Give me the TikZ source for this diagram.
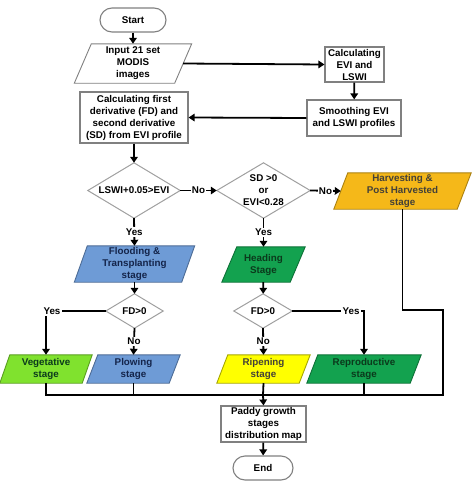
\documentclass[tikz,border=0pt]{standalone}
\usepackage{fontspec}
\setmainfont{Liberation Sans}
\usetikzlibrary{arrows.meta,backgrounds,calc}
\definecolor{vegfill}{HTML}{80E22E}
\definecolor{bluefill}{HTML}{6E9BD6}
\definecolor{yelfill}{HTML}{FFFF00}
\definecolor{grnfill}{HTML}{13A24F}
\definecolor{ambfill}{HTML}{F5B819}
\definecolor{navytext}{HTML}{14244A}
\definecolor{grntext}{HTML}{0B3A1C}
\newcommand\parashape[4]{%
  \begin{scope}[on background layer]
  \filldraw[fill=#3, draw=#4, line width=0.9pt]
    ($(#1.north west)+(#2/2,0)$) -- ($(#1.north east)+(#2/2,0)$) --
    ($(#1.south east)-(#2/2,0)$) -- ($(#1.south west)-(#2/2,0)$) -- cycle;
  \end{scope}}
\newcommand\diamondshape[1]{%
  \draw[draw=gray!75, line width=1pt] (#1.north) -- (#1.east) -- (#1.south) -- (#1.west) -- cycle;}
\begin{document}
\begin{tikzpicture}[x=1pt,y=-1pt,
  every node/.style={font=\fontsize{9.8}{12}\selectfont\bfseries, align=center, inner sep=0pt},
  conn/.style={line width=1.8pt, draw=black},
  arr/.style={conn, -{Triangle[length=6pt,width=7.5pt]}},
  lbl/.style={fill=white, inner sep=1.2pt},
  boxn/.style={draw=gray, line width=1.1pt, fill=white},
  rbox/.style={draw=gray, line width=1.1pt, fill=white, rounded corners=12pt}]
\useasboundingbox (0,0) rectangle (474,485);

% terminals and boxes
\node[rbox, minimum width=66pt, minimum height=24pt] (start) at (133,20) {Start};
\node[minimum width=100pt, minimum height=39pt] (input) at (133,63.5) {Input 21 set\\MODIS\\images};
\parashape{input}{17}{white}{gray}
\node[boxn, minimum width=59pt, minimum height=35pt] (calc) at (354.5,64.5) {Calculating\\EVI and\\LSWI};
\node[boxn, minimum width=94pt, minimum height=36pt] (smooth) at (354,118) {Smoothing EVI\\and LSWI profiles};
\node[boxn, minimum width=108pt, minimum height=51pt] (fdsd) at (134,117.5) {Calculating first\\derivative (FD) and\\second derivative\\(SD) from EVI profile};

% decisions
\node[minimum width=92pt, minimum height=55pt] (lswi) at (134,190.5) {LSWI+0.05>EVI};
\diamondshape{lswi}
\node[minimum width=93pt, minimum height=55pt] (sd) at (263.5,190.5) {SD >0\\or\\EVI<0.28};
\diamondshape{sd}

% stage parallelograms
\node[text=black!85!yellow, minimum width=123pt, minimum height=36pt] (harv) at (402.5,191) {Harvesting \&\\Post Harvested\\stage};
\parashape{harv}{14}{ambfill}{ambfill!70!black}
\node[text=navytext, minimum width=107pt, minimum height=36pt] (flood) at (134.5,264) {Flooding \&\\Transplanting\\stage};
\parashape{flood}{13}{bluefill}{bluefill!70!black}
\node[text=grntext, minimum width=68pt, minimum height=35pt] (head) at (263.5,264.5) {Heading\\Stage};
\parashape{head}{15}{grnfill}{grnfill!70!black}

\node[minimum width=57pt, minimum height=34pt] (fd1) at (134.5,311) {FD>0};
\diamondshape{fd1}
\node[minimum width=58pt, minimum height=34pt] (fd2) at (263,311) {FD>0};
\diamondshape{fd2}

\node[text=grntext, minimum width=82pt, minimum height=28pt] (veg) at (46,369) {Vegetative\\stage};
\parashape{veg}{10}{vegfill}{vegfill!70!black}
\node[text=navytext, minimum width=82pt, minimum height=28pt] (plow) at (133.5,369) {Plowing\\stage};
\parashape{plow}{11}{bluefill}{bluefill!70!black}
\node[text=black!85!yellow, minimum width=82pt, minimum height=28pt] (ripe) at (263.5,369) {Ripening\\stage};
\parashape{ripe}{11}{yelfill}{yelfill!65!black}
\node[text=grntext, minimum width=103pt, minimum height=28pt] (repro) at (364,369) {Reproductive\\stage};
\parashape{repro}{11}{grnfill}{grnfill!70!black}

\node[boxn, minimum width=85pt, minimum height=36pt] (paddy) at (263.5,424) {Paddy growth\\stages\\distribution map};
\node[rbox, minimum width=60pt, minimum height=24pt] (end) at (263,468) {End};

% connectors
\draw[arr] (start) -- (input);
\draw[arr] (input.east) -- (calc.west);
\draw[arr] (calc) -- (smooth);
\draw[arr] (smooth.west) -- (fdsd.east);
\draw[arr] (fdsd) -- (lswi);
\draw[arr] (lswi.east) -- node[lbl]{No} (sd.west);
\draw[arr] (sd.east) -- node[lbl]{No} (harv.west);
\draw[arr] (lswi.south) -- node[lbl]{Yes} (flood.north);
\draw[arr] (sd.south) -- node[lbl]{Yes} (head.north);
\draw[arr] (flood) -- (fd1);
\draw[arr] (head) -- (fd2);
\draw[arr] (fd1.west) -| node[lbl, pos=0.5, xshift=6pt]{Yes} (veg.north);
\draw[arr] (fd1.south) -- node[lbl]{No} (plow.north);
\draw[arr] (fd2.south) -- node[lbl]{No} (ripe.north);
\draw[arr] (fd2.east) -| node[lbl, pos=0.5, xshift=-13pt]{Yes} (repro.north);

\coordinate (bus) at (263,395);
\coordinate (hc) at (443,310);
\draw[conn] (harv.south) |- (hc) |- (bus);
\draw[conn] (veg.south) |- (bus);
\draw[conn] (plow.south) |- (bus);
\draw[conn] (repro.south) |- (bus);
\draw[conn] (ripe.south) -- (bus);
\draw[arr] (bus) -- (paddy.north);
\draw[arr] (paddy) -- (end);
\end{tikzpicture}
\end{document}
